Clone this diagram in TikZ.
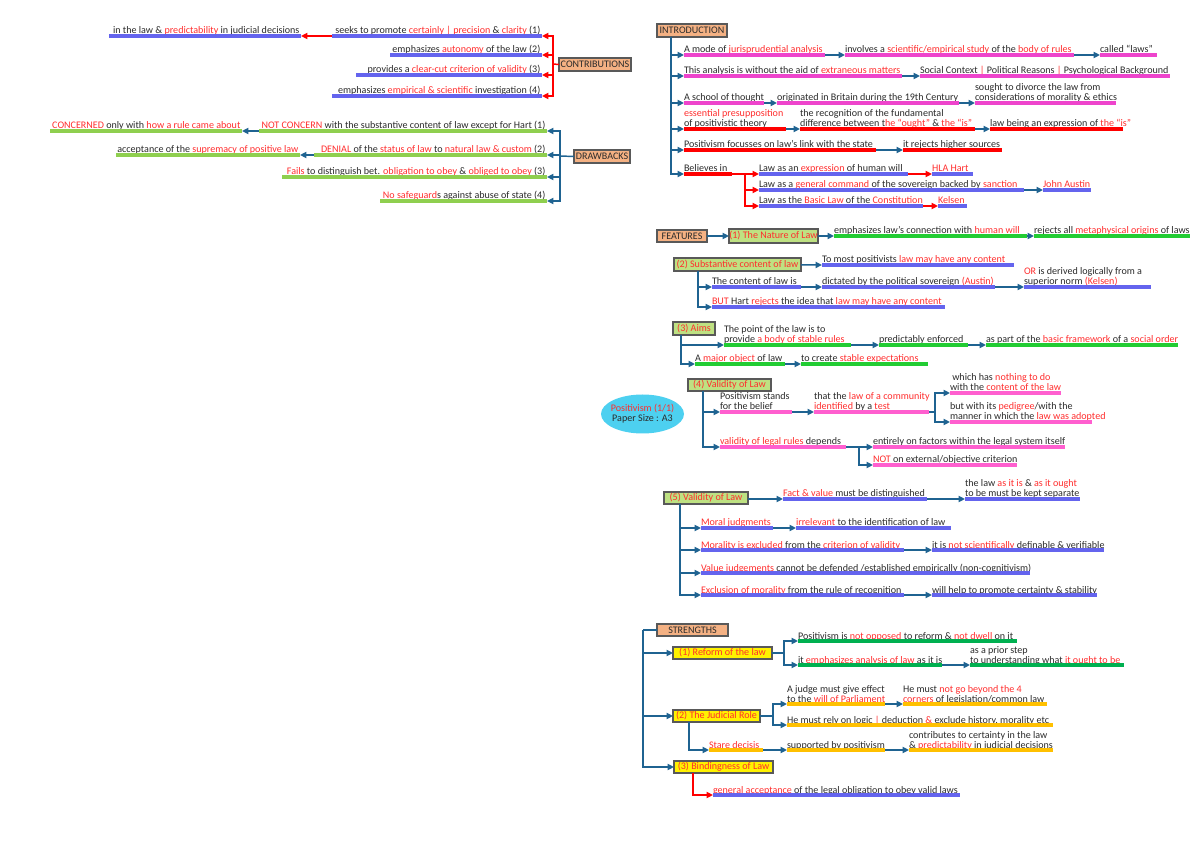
\documentclass[tikz,border=0pt]{standalone}
\usepackage{fontspec}
\setmainfont{Carlito}
\usetikzlibrary{arrows.meta}
\definecolor{ink}{HTML}{2B2B2B}
\definecolor{redt}{HTML}{FF2E2E}
\definecolor{cblue}{HTML}{1F6391}
\definecolor{uviolet}{HTML}{6464EE}
\definecolor{umag}{HTML}{EE44CC}
\definecolor{upink}{HTML}{FF5FCF}
\definecolor{ured}{HTML}{FF0000}
\definecolor{ugreen}{HTML}{22CC33}
\definecolor{uolive}{HTML}{8FCF4F}
\definecolor{udark}{HTML}{00B050}
\definecolor{uorange}{HTML}{FFC000}
\definecolor{forange}{HTML}{F4B183}
\definecolor{fgreen}{HTML}{BEE182}
\definecolor{fcyan}{HTML}{4DD0F0}
\tikzset{
 x=0.75pt,y=-0.75pt,
 conn/.style={draw=cblue,line width=1.1pt,-{Triangle[length=4.8pt,width=4.6pt]}},
 connr/.style={draw=red,line width=1.1pt,-{Triangle[length=4.8pt,width=4.6pt]}},
 plain/.style={draw=cblue,line width=1.1pt},
 plainr/.style={draw=red,line width=1.1pt},
 ul/.style={line width=2.7pt,draw=#1},
 itemnode/.style={anchor=south west,inner sep=0pt,outer sep=0pt,text=ink,text depth=1.5pt},
 boxbase/.style={draw=black!65,line width=0.9pt,inner sep=0pt,outer sep=0pt,text=ink},
 orangebox/.style={boxbase,fill=forange},
 greenbox/.style={boxbase,fill=fgreen,text=redt},
 yellowbox/.style={boxbase,fill=yellow,text=redt},
}
\newcommand\R[1]{\textcolor{redt}{#1}}
\newcommand\itm[6]{%
 \pgfmathsetlengthmacro\itmw{(#3-#2)*0.75pt}%
 \node[itemnode] (#1) at (#2,#4) {\makebox[\itmw][l]{\begin{tabular}[b]{@{}l@{}}#6\end{tabular}}};
 \draw[ul=#5] (#1.south west) -- (#1.south east);}
\newcommand\itmr[6]{%
 \pgfmathsetlengthmacro\itmw{(#3-#2)*0.75pt}%
 \node[itemnode] (#1) at (#2,#4) {\makebox[\itmw][r]{#6\hspace{1.2pt}}};
 \draw[ul=#5] (#1.south west) -- (#1.south east);}
\newcommand\bx[7]{%
 \node[#6,minimum width={(#3-#2)*0.75pt},minimum height={(#5-#4)*0.75pt}] (#1) at ({(#2+#3)/2},{(#4+#5)/2}) {#7};}
\begin{document}
\begin{tikzpicture}
\fontsize{7.55}{7.5}\selectfont
\useasboundingbox (0,0) rectangle (1200,848);
\fill[white] (0,0) rectangle (1200,848);
% CONTRIBUTIONS
\bx{contr}{559}{631}{58}{71}{orangebox}{CONTRIBUTIONS}
\itmr{ca}{332}{542}{36}{uviolet}{\strut seeks to promote \R{certainly | precision} \& \R{clarity} (1)}
\itmr{cap}{109}{301}{36}{uviolet}{\strut in the law \& \R{predictability} in judicial decisions}
\itmr{cb}{390}{542}{55}{uviolet}{\strut emphasizes \R{autonomy} of the law (2)}
\itmr{cc}{356}{542}{75}{uviolet}{\strut provides a \R{clear-cut criterion of validity} (3)}
\itmr{cd}{332}{542}{96}{uviolet}{\strut emphasizes \R{empirical \& scientific} investigation (4)}
\coordinate (cs) at (553,64);
\draw[plainr] (contr.west) -- (cs);
\foreach \t in {ca,cb,cc,cd}{\draw[connr] (cs) |- (\t.south east);}
\draw[connr] (ca.south west) -- (cap.south east);
% DRAWBACKS
\bx{drawb}{574}{630}{150}{163}{orangebox}{DRAWBACKS}
\itmr{da}{259}{547}{131}{uolive}{\strut \R{NOT CONCERN} with the substantive content of law except for Hart (1)}
\itmr{dap}{50}{242}{131}{uolive}{\strut \R{CONCERNED} only with \R{how a rule came about}}
\itmr{db}{314}{547}{155}{uolive}{\strut \R{DENIAL} of the \R{status of law} to \R{natural law \& custom} (2)}
\itmr{dbp}{116}{300}{155}{uolive}{\strut acceptance of the \R{supremacy of positive law}}
\itmr{dc}{282}{547}{177}{uolive}{\strut \R{Fails} to distinguish bet. \R{obligation to obey} \& \R{obliged to obey} (3)}
\itmr{dd}{380}{547}{201}{uolive}{\strut \R{No safeguard}s against abuse of state (4)}
\coordinate (ds) at (560,156);
\draw[plain] (drawb.west) -- (ds);
\foreach \t in {da,db,dc,dd}{\draw[conn] (ds) |- (\t.south east);}
\draw[conn] (da.south west) -- (dap.south east);
\draw[conn] (db.south west) -- (dbp.south east);
% INTRODUCTION
\bx{intro}{657}{727}{24}{37}{orangebox}{INTRODUCTION}
\itm{i1a}{684}{825}{55}{umag}{A mode of \R{jurisprudential analysis}}
\itm{i1b}{845}{1074}{55}{umag}{involves a \R{scientific/empirical study} of the \R{body of rules}}
\itm{i1c}{1100}{1157}{55}{umag}{called “laws”}
\itm{i2a}{684}{902}{76}{umag}{This analysis is without the aid of \R{extraneous matters}}
\itm{i2b}{920}{1170}{76}{umag}{Social Context \R{|} Political Reasons \R{|} Psychological Background}
\itm{i3a}{684}{764}{103}{umag}{A school of thought}
\itm{i3b}{777}{959}{103}{umag}{originated in Britain during the 19th Century}
\itm{i3c}{975}{1116}{103}{umag}{sought to divorce the law from\\considerations of morality \& ethics}
\itm{i4a}{684}{786}{129}{ured}{\R{essential presupposition}\\of positivistic theory}
\itm{i4b}{800}{975}{129}{ured}{the recognition of the fundamental\\difference between t\R{he “ought”} \& \R{the “is”}}
\itm{i4c}{990}{1123}{129}{ured}{law being an expression of \R{the “is”}}
\itm{i5a}{684}{876}{150}{ured}{Positivism focusses on law’s link with the state}
\itm{i5b}{903}{1002}{150}{ured}{it rejects higher sources}
\itm{i6}{684}{732}{174}{ured}{Believes in}
\itm{l1}{759}{908}{174}{uviolet}{Law as an \R{expression} of human will}
\itm{l1b}{932}{973}{174}{uviolet}{\R{HLA Hart}}
\itm{l2}{759}{1024}{190}{uviolet}{Law as a \R{general command} of the sovereign backed by \R{sanction}}
\itm{l2b}{1043}{1091}{190}{uviolet}{\R{John Austin}}
\itm{l3}{759}{923}{206}{uviolet}{Law as the \R{Basic Law} of the \R{Constitution}}
\itm{l3b}{938}{967}{206}{uviolet}{\R{Kelsen}}
\coordinate (is) at (671,37);
\foreach \t in {i1a,i2a,i3a,i4a,i5a,i6}{\draw[conn] (is) |- (\t.south west);}
\draw[conn] (i1a.south east) -- (i1b.south west);
\draw[conn] (i1b.south east) -- (i1c.south west);
\draw[conn] (i2a.south east) -- (i2b.south west);
\draw[conn] (i3a.south east) -- (i3b.south west);
\draw[conn] (i3b.south east) -- (i3c.south west);
\draw[conn] (i4a.south east) -- (i4b.south west);
\draw[conn] (i4b.south east) -- (i4c.south west);
\draw[conn] (i5a.south east) -- (i5b.south west);
\coordinate (ib) at (745,174);
\draw[connr] (i6.south east) -- (l1.south west);
\draw[connr] (ib) |- (l2.south west);
\draw[connr] (ib) |- (l3.south west);
\draw[connr] (l1.south east) -- (l1b.south west);
\draw[conn] (l2.south east) -- (l2b.south west);
\draw[connr] (l3.south east) -- (l3b.south west);
% FEATURES
\bx{feat}{657}{707}{230}{242}{orangebox}{FEATURES}
\bx{f1}{729}{818}{229}{243}{greenbox}{(1) The Nature of Law}
\itm{f1a}{834}{1027}{236}{ugreen}{emphasizes law’s connection with \R{human will}}
\itm{f1b}{1034}{1190}{236}{ugreen}{rejects all \R{metaphysical origins} of laws}
\draw[conn] (feat) -- (f1);
\draw[conn] (f1) -- (f1a.south west);
\draw[conn] (f1a.south east) -- (f1b.south west);
% (2)
\bx{f2}{674}{801}{258}{271}{greenbox}{(2) Substantive content of law}
\itm{f2a}{822}{1014}{265}{uviolet}{To most positivists \R{law may have any content}}
\itm{f2b}{712}{801}{287}{uviolet}{The content of law is}
\itm{f2c}{822}{995}{287}{uviolet}{dictated by the political sovereign \R{(Austin)}}
\itm{f2d}{1024}{1151}{287}{uviolet}{\R{OR} is derived logically from a\\superior norm \R{(Kelsen)}}
\itm{f2e}{712}{945}{307}{uviolet}{\R{BUT} Hart \R{rejects} the idea that \R{law may have any content}}
\coordinate (f2s) at (698,271);
\draw[conn] (f2) -- (f2a.south west);
\draw[conn] (f2s) |- (f2b.south west);
\draw[conn] (f2s) |- (f2e.south west);
\draw[conn] (f2b.south east) -- (f2c.south west);
\draw[conn] (f2c.south east) -- (f2d.south west);
% (3)
\bx{f3}{673}{715}{322}{335}{greenbox}{(3) Aims}
\itm{f3a}{724}{851}{345}{ugreen}{The point of the law is to\\provide \R{a body of stable rules}}
\itm{f3b}{879}{968}{345}{ugreen}{predictably enforced}
\itm{f3c}{986}{1178}{345}{ugreen}{as part of the \R{basic framework} of a \R{social order}}
\itm{f3d}{695}{785}{364}{ugreen}{A \R{major object} of law}
\itm{f3e}{801}{928}{364}{ugreen}{to create \R{stable expectations}}
\coordinate (f3s) at (681,335);
\draw[conn] (f3s) |- (f3a.south west);
\draw[conn] (f3s) |- (f3d.south west);
\draw[conn] (f3a.south east) -- (f3b.south west);
\draw[conn] (f3b.south east) -- (f3c.south west);
\draw[conn] (f3d.south east) -- (f3e.south west);
% ellipse
\fill[fcyan] (642.5,414) ellipse [x radius=41.5,y radius=19.5];
\node[inner sep=0pt,align=center,text=ink] (pos) at (642.5,414) {\R{Positivism (1/1)}\\Paper Size : A3};
% (4)
\bx{f4}{688}{771}{379}{391}{greenbox}{(4) Validity of Law}
\itm{f4a}{720}{792}{412}{upink}{Positivism stands\\for the belief}
\itm{f4b}{814}{929}{412}{upink}{that the \R{law of a community}\\\R{identified} by a \R{test}}
\itm{f4c}{950}{1061}{393}{upink}{\ which has \R{nothing to do}\\with the \R{content of the law}}
\itm{f4d}{950}{1092}{422}{upink}{but with its \R{pedigree}/with the\\manner in which the \R{law was adopted}}
\itm{f4e}{720}{846}{447}{upink}{\R{validity of legal rules} depends}
\itm{f4f}{873}{1065}{447}{upink}{entirely on factors within the legal system itself}
\itm{f4g}{873}{1017}{465}{upink}{\R{NOT} on external/objective criterion}
\coordinate (f4s) at (703,391);
\coordinate (f4b1) at (935,412);
\coordinate (f4b2) at (859,447);
\draw[conn] (f4s) |- (f4a.south west);
\draw[conn] (f4s) |- (f4e.south west);
\draw[conn] (f4a.south east) -- (f4b.south west);
\draw[plain] (f4b.south east) -- (f4b1);
\draw[conn] (f4b1) |- (f4c.south west);
\draw[conn] (f4b1) |- (f4d.south west);
\draw[conn] (f4e.south east) -- (f4f.south west);
\draw[conn] (f4b2) |- (f4g.south west);
% (5)
\bx{f5}{664}{748}{492}{504}{greenbox}{(5) Validity of Law}
\itm{f5a}{783}{927}{499}{uviolet}{\R{Fact \& value} must be distinguished}
\itm{f5b}{965}{1080}{499}{uviolet}{the law \R{as it is} \& \R{as it ought}\\to be must be kept separate}
\itm{f5c}{701}{773}{528}{uviolet}{\R{Moral judgments}}
\itm{f5d}{796}{951}{528}{uviolet}{\R{irrelevant} to the identification of law}
\itm{f5e}{701}{904}{550}{uviolet}{\R{Morality is excluded} from the \R{criterion of validity}}
\itm{f5f}{932}{1104}{550}{uviolet}{it is \R{not scientifically} definable \& verifiable}
\itm{f5g}{701}{1030}{573}{uviolet}{\R{Value judgements} cannot be defended /established empirically (non-cognitivism)}
\itm{f5h}{701}{904}{595}{uviolet}{\R{Exclusion of morality} from the rule of recognition}
\itm{f5i}{932}{1097}{595}{uviolet}{will help to promote certainty \& stability}
\coordinate (f5s) at (680,504);
\draw[conn] (f5.east |- f5a.south) -- (f5a.south west);
\draw[conn] (f5a.south east) -- (f5b.south west);
\foreach \t in {f5c,f5e,f5g,f5h}{\draw[conn] (f5s) |- (\t.south west);}
\draw[conn] (f5c.south east) -- (f5d.south west);
\draw[conn] (f5e.south east) -- (f5f.south west);
\draw[conn] (f5h.south east) -- (f5i.south west);
% STRENGTHS
\bx{st}{657}{728}{624}{636}{orangebox}{STRENGTHS}
\bx{s1}{673}{772}{647}{659}{yellowbox}{(1) Reform of the law}
\bx{s2}{673}{760}{710}{722}{yellowbox}{(2) The Judicial Role}
\bx{s3}{674}{773}{761}{773}{yellowbox}{(3) Bindingness of Law}
\coordinate (sts) at (643,630);
\draw[plain] (st.west) -- (sts);
\foreach \t in {s1,s2,s3}{\draw[conn] (sts) |- (\t.west);}
\itm{s1a}{798}{1017}{641}{udark}{Positivism is \R{not opposed} to reform \& \R{not dwell} on it}
\itm{s1b}{798}{942}{665}{udark}{it \R{emphasizes analysis of law} as it is}
\itm{s1c}{970}{1124}{665}{udark}{as a prior step\\to understanding what \R{it ought to be}}
\coordinate (s1j) at (784,653);
\draw[plain] (s1) -- (s1j);
\draw[conn] (s1j) |- (s1a.south west);
\draw[conn] (s1j) |- (s1b.south west);
\draw[conn] (s1b.south east) -- (s1c.south west);
\itm{s2a}{787}{885}{704}{uorange}{A judge must give effect\\to the \R{will of Parliament}}
\itm{s2b}{903}{1047}{704}{uorange}{He must \R{not go beyond the 4}\\\R{corners} of legislation/common law}
\itm{s2c}{787}{1053}{725}{uorange}{He must rely on logic \R{|} deduction \R{\&} exclude history, morality etc}
\itm{s2d}{709}{763}{750}{uorange}{\R{Stare decisis}}
\itm{s2e}{787}{885}{750}{uorange}{supported by positivism}
\itm{s2f}{909}{1053}{750}{uorange}{contributes to certainty in the law\\\& \R{predictability} in judicial decisions}
\coordinate (s2j) at (773,716);
\coordinate (s2k) at (689,722);
\draw[plain] (s2) -- (s2j);
\draw[conn] (s2j) |- (s2a.south west);
\draw[conn] (s2j) |- (s2c.south west);
\draw[conn] (s2a.south east) -- (s2b.south west);
\draw[conn] (s2k) |- (s2d.south west);
\draw[conn] (s2d.south east) -- (s2e.south west);
\draw[conn] (s2e.south east) -- (s2f.south west);
\itm{s3a}{713}{960}{795}{uviolet}{\R{general acceptance} of the legal obligation to obey valid laws}
\coordinate (s3j) at (693,773);
\draw[connr] (s3j) |- (s3a.south west);
\end{tikzpicture}
\end{document}
